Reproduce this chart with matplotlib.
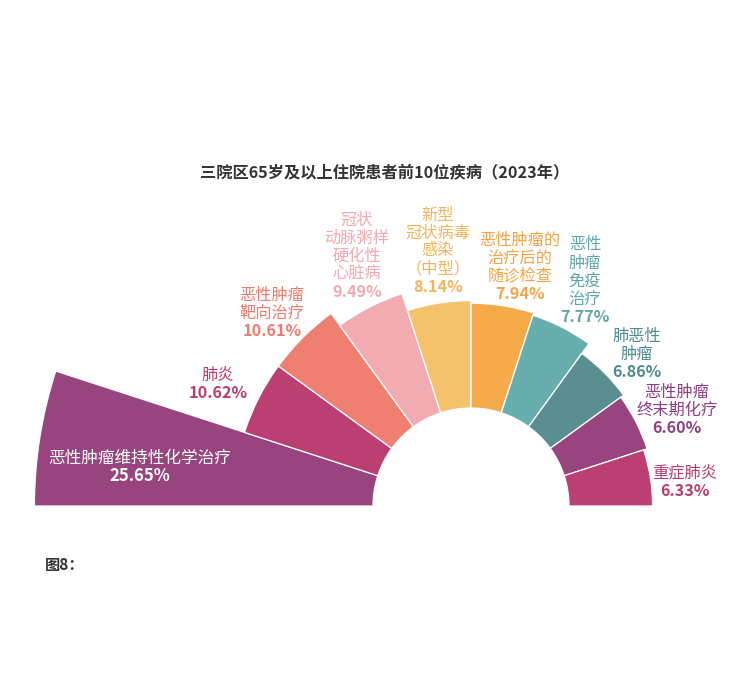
import numpy as np
import matplotlib.pyplot as plt

plt.rcParams['font.family'] = ['Noto Sans CJK SC', 'DejaVu Sans']

# data, left to right around the half ring
names = ['恶性肿瘤维持性化学治疗', '肺炎', '恶性肿瘤\n靶向治疗', '冠状\n动脉粥样\n硬化性\n心脏病',
         '新型\n冠状病毒\n感染\n（中型）', '恶性肿瘤的\n治疗后的\n随诊检查', '恶性\n肿瘤\n免疫\n治疗',
         '肺恶性\n肿瘤', '恶性肿瘤\n终末期化疗', '重症肺炎']
values = [25.65, 10.62, 10.61, 9.49, 8.14, 7.94, 7.77, 6.86, 6.60, 6.33]
pct_labels = ['25.65%', '10.62%', '10.61%', '9.49%', '8.14%', '7.94%', '7.77%', '6.86%', '6.60%', '6.33%']

colors = ['#98457F', '#BB3F72', '#EF7F70', '#F2ABB1', '#F5C26C',
          '#F5AB4A', '#67AEAD', '#5A8E90', '#98457F', '#BB3F72']
text_colors = ['white', '#B83D6E', '#EE7B6B', '#F2A9AF', '#F4B45A',
               '#F4A444', '#5FA8A6', '#4E8B8D', '#8E3F7F', '#B83D6E']
# label anchor (pixel x, pixel y of first line)
label_pos = [(140, 458), (218, 375), (272, 295), (357, 220), (438, 215),
             (520, 240), (585, 245), (637, 336), (677, 392), (685, 473)]

W, H = 750, 674
fig = plt.figure(figsize=(W/100, H/100), dpi=100)

# polar axes centred on the ring centre
cx, cy = 471, H - 506
R_px = 440
px_per_unit = 13.2
hole = 98 / px_per_unit
ax = fig.add_axes([(cx - R_px)/W, (cy - R_px)/H, 2*R_px/W, 2*R_px/H], projection='polar')
ax.set_theta_zero_location('W')
ax.set_theta_direction(-1)
ax.set_rlim(0, R_px / px_per_unit)

n = len(values)
width = np.pi / n
theta = np.arange(n) * width + width / 2
ax.bar(theta, values, width=width, bottom=hole, color=colors,
       edgecolor='white', linewidth=0.9, align='center')
ax.axis('off')
ax.patch.set_visible(False)

line_h = 18
for i in range(n):
    x, y = label_pos[i]
    lines = names[i].split('\n')
    fs = 12 if i == 0 else 11.7
    for j, ln in enumerate(lines):
        fig.text(x/W, 1 - (y + j*line_h)/H, ln, ha='center', va='center',
                 fontsize=fs, color=text_colors[i])
    fig.text(x/W, 1 - (y + len(lines)*line_h)/H, pct_labels[i], ha='center', va='center',
             fontsize=fs, color=text_colors[i], fontweight='bold')

fig.text(385/W, 1 - 173/H, '三院区65岁及以上住院患者前10位疾病（2023年）', ha='center', va='center',
         fontsize=11.7, fontweight='bold', color='#333333')
fig.text(45/W, 1 - 565/H, '图8：', ha='left', va='center',
         fontsize=11, fontweight='bold', color='#333333')

fig.savefig('out.png', dpi=100)
